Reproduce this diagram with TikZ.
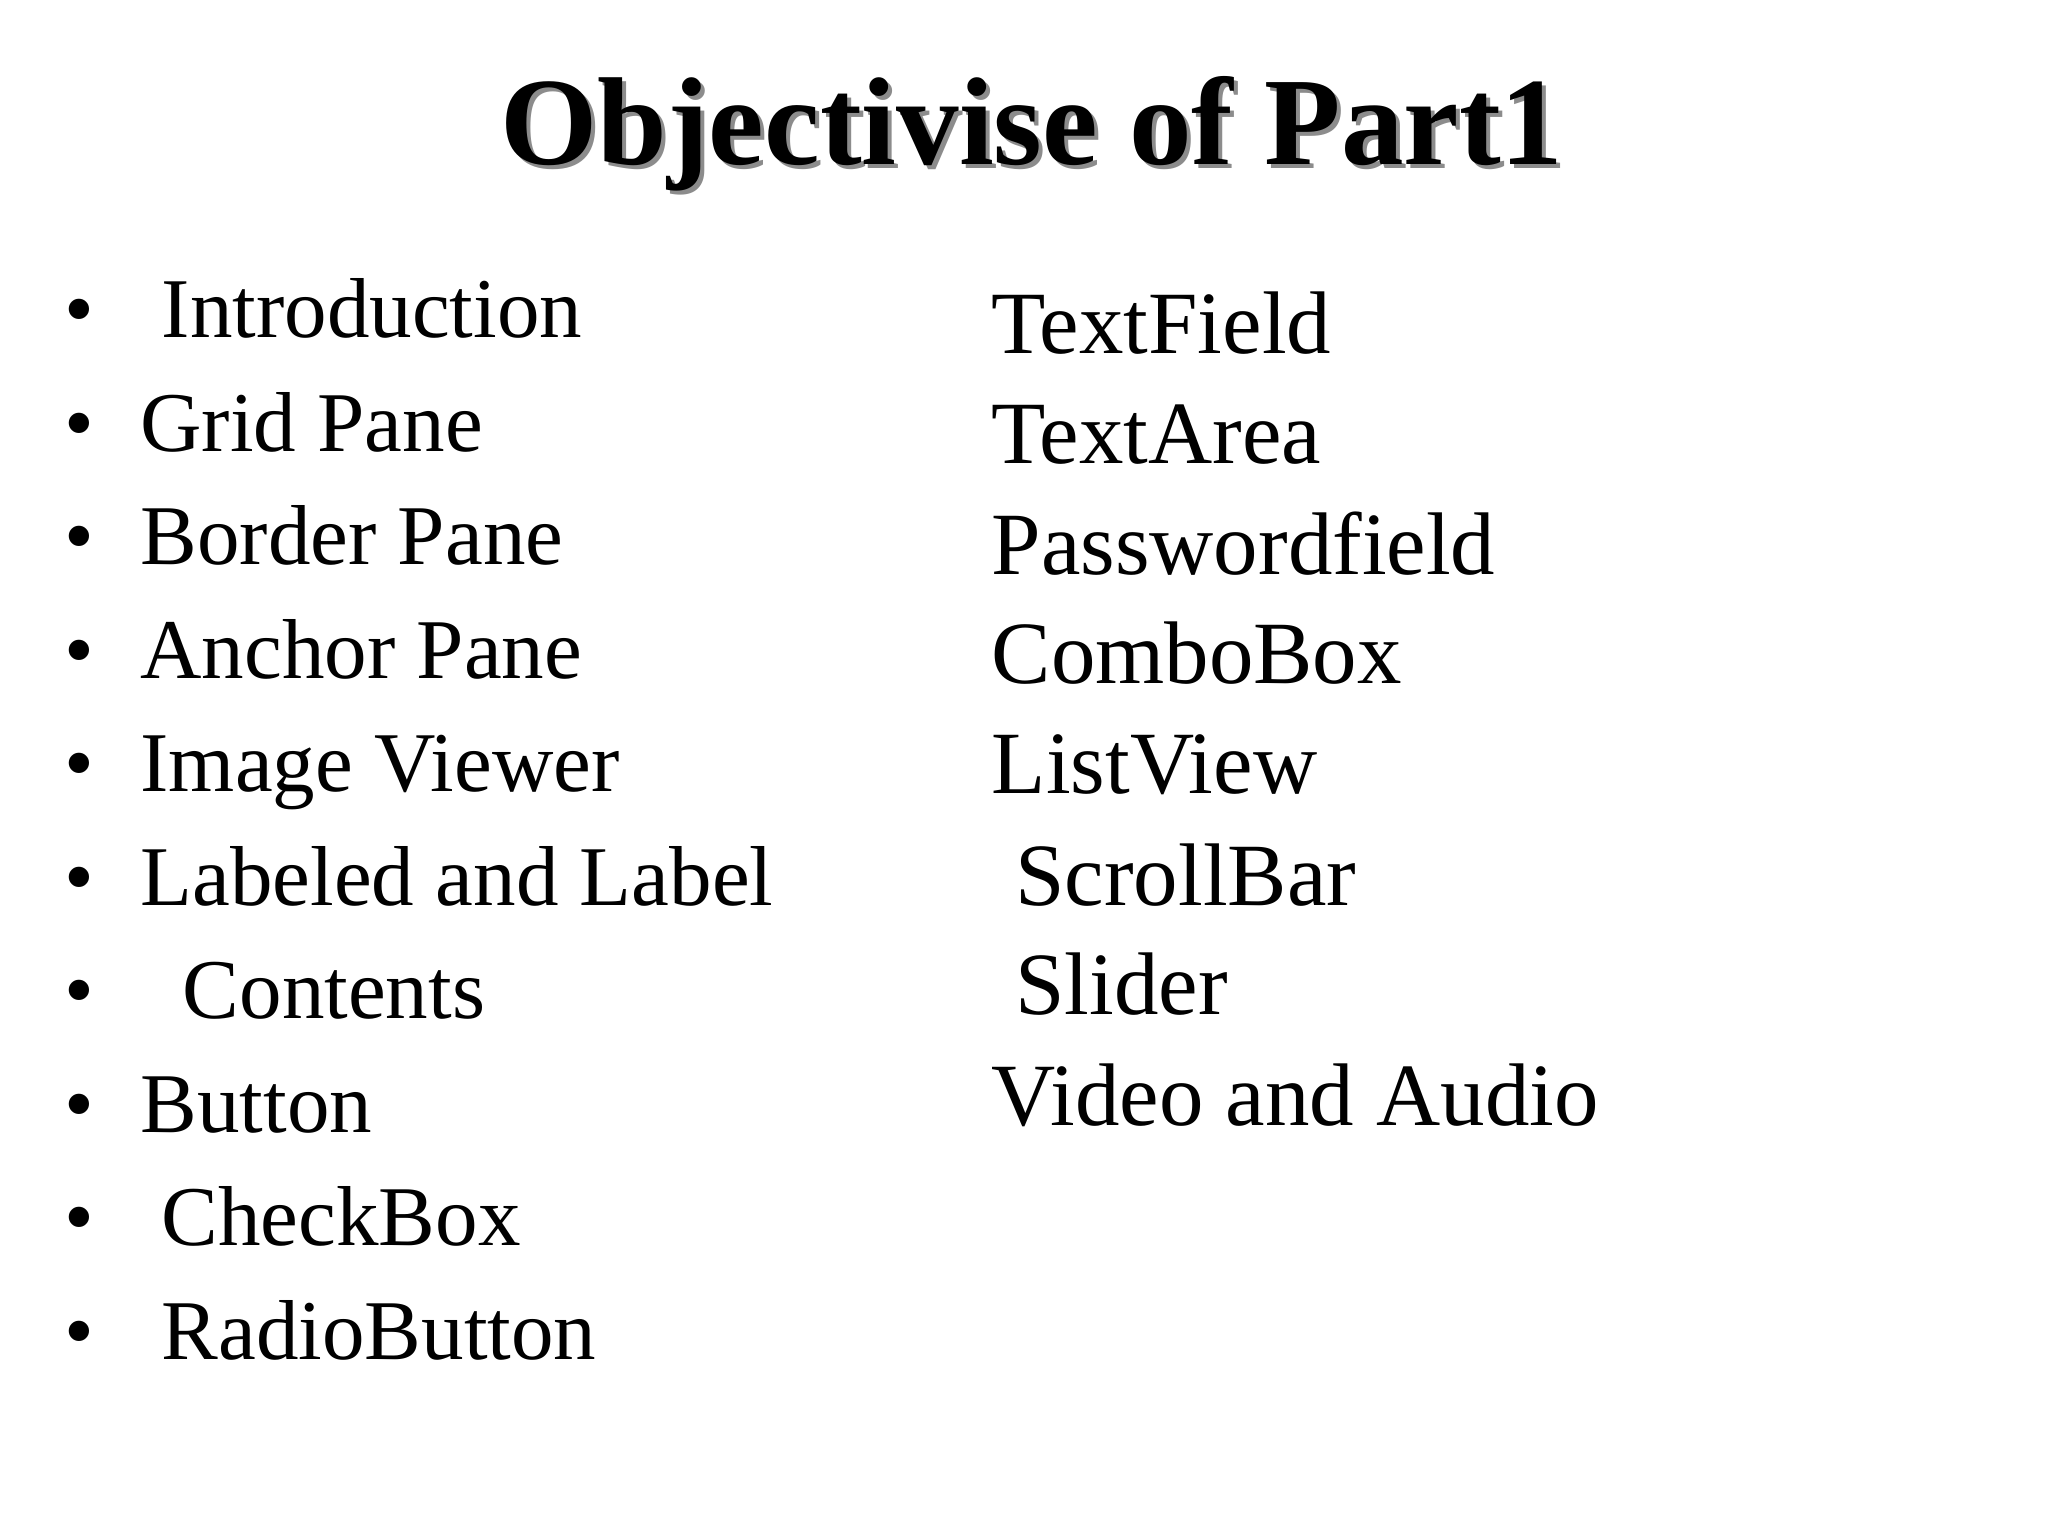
\documentclass[tikz,border=0pt]{standalone}
\usepackage{fontspec}
\setmainfont{Liberation Serif}
\begin{document}
\begin{tikzpicture}[x=0.0132cm,y=-0.0132cm,
  item/.style={anchor=base west,inner sep=0pt,font=\fontsize{24.2}{26}\selectfont},
  ritem/.style={anchor=base west,inner sep=0pt,font=\fontsize{25.3}{27}\selectfont},
  bul/.style={anchor=base,inner sep=0pt,font=\fontsize{24.2}{26}\selectfont}]
\useasboundingbox (0,0) rectangle (1552,1164);
\node[anchor=base,inner sep=0pt,font=\fontsize{35.6}{38}\selectfont\bfseries,text=black!45] (ts) at (785,128) {Objectivise of Part1};
\node[anchor=base,inner sep=0pt,font=\fontsize{35.6}{38}\selectfont\bfseries] (title) at (782,125) {Objectivise of Part1};
\foreach \y/\x/\t [count=\i] in {256/122/Introduction,342/106/Grid Pane,428/106/Border Pane,514/106/Anchor Pane,600/106/Image Viewer,686/106/Labeled and Label,772/138/Contents,858/106/Button,944/122/CheckBox,1030/122/RadioButton}{
  \node[bul] (b\i) at (60,\y) {•};
  \node[item] (l\i) at (\x,\y) {\t};
}
\foreach \y/\x/\t [count=\i] in {268/751/TextField,351/751/TextArea,435/751/Passwordfield,518/751/ComboBox,601/751/ListView,686/769/ScrollBar,769/769/Slider,853/751/Video and Audio}{
  \node[ritem] (r\i) at (\x,\y) {\t};
}
\end{tikzpicture}
\end{document}
